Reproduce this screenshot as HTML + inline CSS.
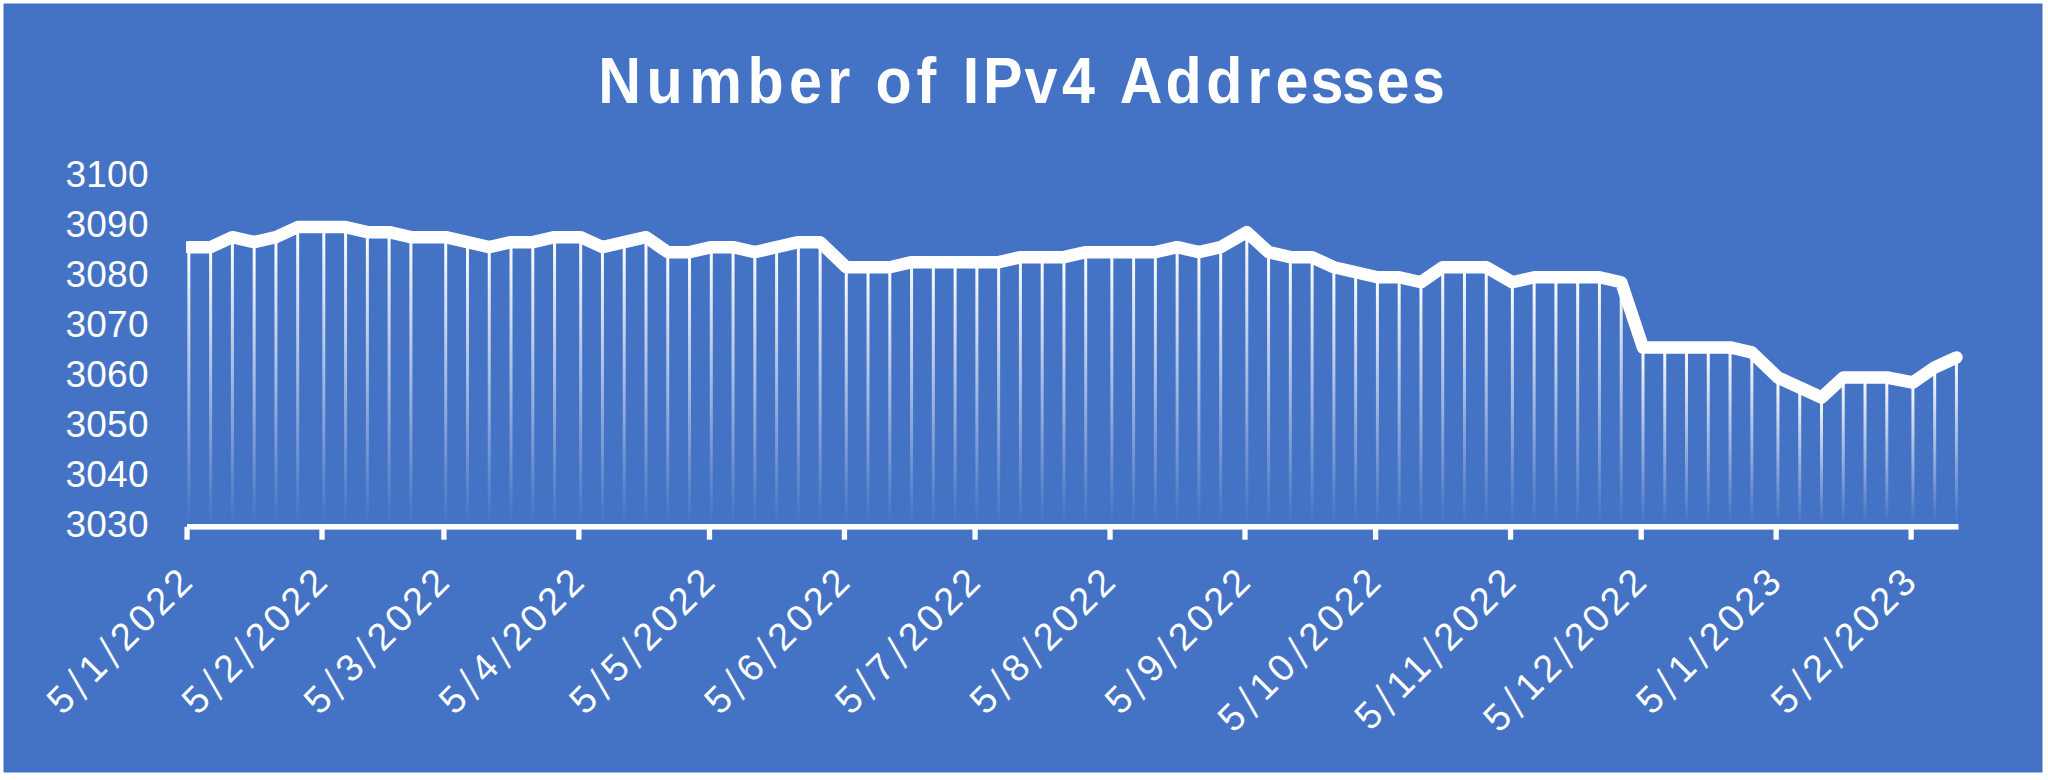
<!DOCTYPE html>
<html><head><meta charset="utf-8"><title>Number of IPv4 Addresses</title>
<style>
html,body{margin:0;padding:0;background:#fff;width:2048px;height:780px;overflow:hidden}
svg{display:block}
text{font-family:"Liberation Sans",Arial,sans-serif;fill:#fff}
</style></head><body>
<svg width="2048" height="780" viewBox="0 0 2048 780">
<defs>
<linearGradient id="dg" x1="0" y1="0" x2="0" y2="1">
<stop offset="0" stop-color="#fff" stop-opacity="1"/>
<stop offset="1" stop-color="#fff" stop-opacity="0"/>
</linearGradient>
<clipPath id="pc"><rect x="186" y="0" width="1800" height="780"/></clipPath>
</defs>
<rect x="3.5" y="3.5" width="2039" height="769" fill="#4472C4"/>
<rect x="4.5" y="4.5" width="2037" height="767" fill="none" stroke="#3e6dc1" stroke-width="1"/>
<text transform="scale(0.92,1)" y="102.8" font-size="64.4" font-weight="bold" x="650.25 702.77 749.21 812.49 857.60 899.20 909.20 951.64 996.16 1006.16 1046.43 1068.48 1113.47 1154.28 1164.28 1217.16 1266.92 1311.05 1355.99 1386.35 1424.45 1458.79 1496.18 1534.77">Number of IPv4 Addresses</text>
<text x="65.45 86.28 107.11 127.94" y="187.3" font-size="37">3100</text>
<text x="65.45 86.28 107.11 127.94" y="237.3" font-size="37">3090</text>
<text x="65.45 86.28 107.11 127.94" y="287.3" font-size="37">3080</text>
<text x="65.45 86.28 107.11 127.94" y="337.3" font-size="37">3070</text>
<text x="65.45 86.28 107.11 127.94" y="387.3" font-size="37">3060</text>
<text x="65.45 86.28 107.11 127.94" y="437.3" font-size="37">3050</text>
<text x="65.45 86.28 107.11 127.94" y="487.3" font-size="37">3040</text>
<text x="65.45 86.28 107.11 127.94" y="537.3" font-size="37">3030</text>
<rect x="187.35" y="247.17" width="3" height="276.83" fill="url(#dg)"/>
<rect x="209.12" y="247.17" width="3" height="276.83" fill="url(#dg)"/>
<rect x="230.89" y="237.15" width="3" height="286.85" fill="url(#dg)"/>
<rect x="252.66" y="242.16" width="3" height="281.84" fill="url(#dg)"/>
<rect x="274.42" y="237.15" width="3" height="286.85" fill="url(#dg)"/>
<rect x="296.19" y="227.12" width="3" height="296.88" fill="url(#dg)"/>
<rect x="322.31" y="227.12" width="3" height="296.88" fill="url(#dg)"/>
<rect x="344.08" y="227.12" width="3" height="296.88" fill="url(#dg)"/>
<rect x="365.85" y="232.14" width="3" height="291.86" fill="url(#dg)"/>
<rect x="387.62" y="232.14" width="3" height="291.86" fill="url(#dg)"/>
<rect x="409.39" y="237.15" width="3" height="286.85" fill="url(#dg)"/>
<rect x="444.22" y="237.15" width="3" height="286.85" fill="url(#dg)"/>
<rect x="465.99" y="242.16" width="3" height="281.84" fill="url(#dg)"/>
<rect x="487.76" y="247.17" width="3" height="276.83" fill="url(#dg)"/>
<rect x="509.52" y="242.16" width="3" height="281.84" fill="url(#dg)"/>
<rect x="531.29" y="242.16" width="3" height="281.84" fill="url(#dg)"/>
<rect x="553.06" y="237.15" width="3" height="286.85" fill="url(#dg)"/>
<rect x="579.18" y="237.15" width="3" height="286.85" fill="url(#dg)"/>
<rect x="600.95" y="247.17" width="3" height="276.83" fill="url(#dg)"/>
<rect x="622.72" y="242.16" width="3" height="281.84" fill="url(#dg)"/>
<rect x="644.49" y="237.15" width="3" height="286.85" fill="url(#dg)"/>
<rect x="666.26" y="252.19" width="3" height="271.81" fill="url(#dg)"/>
<rect x="688.03" y="252.19" width="3" height="271.81" fill="url(#dg)"/>
<rect x="709.79" y="247.17" width="3" height="276.83" fill="url(#dg)"/>
<rect x="731.56" y="247.17" width="3" height="276.83" fill="url(#dg)"/>
<rect x="753.33" y="252.19" width="3" height="271.81" fill="url(#dg)"/>
<rect x="775.10" y="247.17" width="3" height="276.83" fill="url(#dg)"/>
<rect x="796.87" y="242.16" width="3" height="281.84" fill="url(#dg)"/>
<rect x="818.64" y="242.16" width="3" height="281.84" fill="url(#dg)"/>
<rect x="844.76" y="267.22" width="3" height="256.78" fill="url(#dg)"/>
<rect x="866.53" y="267.22" width="3" height="256.78" fill="url(#dg)"/>
<rect x="888.30" y="267.22" width="3" height="256.78" fill="url(#dg)"/>
<rect x="910.06" y="262.21" width="3" height="261.79" fill="url(#dg)"/>
<rect x="931.83" y="262.21" width="3" height="261.79" fill="url(#dg)"/>
<rect x="953.60" y="262.21" width="3" height="261.79" fill="url(#dg)"/>
<rect x="975.37" y="262.21" width="3" height="261.79" fill="url(#dg)"/>
<rect x="997.14" y="262.21" width="3" height="261.79" fill="url(#dg)"/>
<rect x="1018.91" y="257.20" width="3" height="266.80" fill="url(#dg)"/>
<rect x="1040.68" y="257.20" width="3" height="266.80" fill="url(#dg)"/>
<rect x="1062.44" y="257.20" width="3" height="266.80" fill="url(#dg)"/>
<rect x="1084.21" y="252.19" width="3" height="271.81" fill="url(#dg)"/>
<rect x="1110.33" y="252.19" width="3" height="271.81" fill="url(#dg)"/>
<rect x="1132.10" y="252.19" width="3" height="271.81" fill="url(#dg)"/>
<rect x="1153.87" y="252.19" width="3" height="271.81" fill="url(#dg)"/>
<rect x="1175.64" y="247.17" width="3" height="276.83" fill="url(#dg)"/>
<rect x="1197.41" y="252.19" width="3" height="271.81" fill="url(#dg)"/>
<rect x="1219.18" y="247.17" width="3" height="276.83" fill="url(#dg)"/>
<rect x="1245.30" y="232.14" width="3" height="291.86" fill="url(#dg)"/>
<rect x="1267.07" y="252.19" width="3" height="271.81" fill="url(#dg)"/>
<rect x="1288.84" y="257.20" width="3" height="266.80" fill="url(#dg)"/>
<rect x="1310.60" y="257.20" width="3" height="266.80" fill="url(#dg)"/>
<rect x="1332.37" y="267.22" width="3" height="256.78" fill="url(#dg)"/>
<rect x="1354.14" y="272.24" width="3" height="251.76" fill="url(#dg)"/>
<rect x="1375.91" y="277.25" width="3" height="246.75" fill="url(#dg)"/>
<rect x="1397.68" y="277.25" width="3" height="246.75" fill="url(#dg)"/>
<rect x="1419.45" y="282.26" width="3" height="241.74" fill="url(#dg)"/>
<rect x="1441.22" y="267.22" width="3" height="256.78" fill="url(#dg)"/>
<rect x="1462.98" y="267.22" width="3" height="256.78" fill="url(#dg)"/>
<rect x="1484.75" y="267.22" width="3" height="256.78" fill="url(#dg)"/>
<rect x="1510.87" y="282.26" width="3" height="241.74" fill="url(#dg)"/>
<rect x="1532.64" y="277.25" width="3" height="246.75" fill="url(#dg)"/>
<rect x="1554.41" y="277.25" width="3" height="246.75" fill="url(#dg)"/>
<rect x="1576.18" y="277.25" width="3" height="246.75" fill="url(#dg)"/>
<rect x="1597.95" y="277.25" width="3" height="246.75" fill="url(#dg)"/>
<rect x="1619.72" y="282.26" width="3" height="241.74" fill="url(#dg)"/>
<rect x="1641.49" y="347.42" width="3" height="176.58" fill="url(#dg)"/>
<rect x="1663.25" y="347.42" width="3" height="176.58" fill="url(#dg)"/>
<rect x="1685.02" y="347.42" width="3" height="176.58" fill="url(#dg)"/>
<rect x="1706.79" y="347.42" width="3" height="176.58" fill="url(#dg)"/>
<rect x="1728.56" y="347.42" width="3" height="176.58" fill="url(#dg)"/>
<rect x="1750.33" y="352.43" width="3" height="171.57" fill="url(#dg)"/>
<rect x="1776.45" y="377.50" width="3" height="146.50" fill="url(#dg)"/>
<rect x="1798.22" y="387.52" width="3" height="136.48" fill="url(#dg)"/>
<rect x="1819.99" y="397.55" width="3" height="126.45" fill="url(#dg)"/>
<rect x="1841.76" y="377.50" width="3" height="146.50" fill="url(#dg)"/>
<rect x="1863.52" y="377.50" width="3" height="146.50" fill="url(#dg)"/>
<rect x="1885.29" y="377.50" width="3" height="146.50" fill="url(#dg)"/>
<rect x="1911.42" y="382.51" width="3" height="141.49" fill="url(#dg)"/>
<rect x="1933.18" y="367.47" width="3" height="156.53" fill="url(#dg)"/>
<rect x="1954.95" y="357.45" width="3" height="166.55" fill="url(#dg)"/>
<rect x="187" y="524" width="1771.5" height="5.6" fill="#fff"/>
<rect x="184.40" y="526.9" width="5.3" height="12.8" fill="#fff"/>
<text transform="translate(197.05,581.7) rotate(-45)" text-anchor="end" font-size="38" letter-spacing="4">5<tspan dx="1.15" dy="5.3" font-size="48" stroke="#4472C4" stroke-width="0.9">/</tspan><tspan dx="1.15" dy="-5.3">1</tspan><tspan dx="1.15" dy="5.3" font-size="48" stroke="#4472C4" stroke-width="0.9">/</tspan><tspan dx="1.15" dy="-5.3">2</tspan>022</text>
<rect x="319.36" y="526.9" width="5.3" height="12.8" fill="#fff"/>
<text transform="translate(332.01,581.7) rotate(-45)" text-anchor="end" font-size="38" letter-spacing="4">5<tspan dx="1.15" dy="5.3" font-size="48" stroke="#4472C4" stroke-width="0.9">/</tspan><tspan dx="1.15" dy="-5.3">2</tspan><tspan dx="1.15" dy="5.3" font-size="48" stroke="#4472C4" stroke-width="0.9">/</tspan><tspan dx="1.15" dy="-5.3">2</tspan>022</text>
<rect x="441.27" y="526.9" width="5.3" height="12.8" fill="#fff"/>
<text transform="translate(453.92,581.7) rotate(-45)" text-anchor="end" font-size="38" letter-spacing="4">5<tspan dx="1.15" dy="5.3" font-size="48" stroke="#4472C4" stroke-width="0.9">/</tspan><tspan dx="1.15" dy="-5.3">3</tspan><tspan dx="1.15" dy="5.3" font-size="48" stroke="#4472C4" stroke-width="0.9">/</tspan><tspan dx="1.15" dy="-5.3">2</tspan>022</text>
<rect x="576.23" y="526.9" width="5.3" height="12.8" fill="#fff"/>
<text transform="translate(588.88,581.7) rotate(-45)" text-anchor="end" font-size="38" letter-spacing="4">5<tspan dx="1.15" dy="5.3" font-size="48" stroke="#4472C4" stroke-width="0.9">/</tspan><tspan dx="1.15" dy="-5.3">4</tspan><tspan dx="1.15" dy="5.3" font-size="48" stroke="#4472C4" stroke-width="0.9">/</tspan><tspan dx="1.15" dy="-5.3">2</tspan>022</text>
<rect x="706.84" y="526.9" width="5.3" height="12.8" fill="#fff"/>
<text transform="translate(719.49,581.7) rotate(-45)" text-anchor="end" font-size="38" letter-spacing="4">5<tspan dx="1.15" dy="5.3" font-size="48" stroke="#4472C4" stroke-width="0.9">/</tspan><tspan dx="1.15" dy="-5.3">5</tspan><tspan dx="1.15" dy="5.3" font-size="48" stroke="#4472C4" stroke-width="0.9">/</tspan><tspan dx="1.15" dy="-5.3">2</tspan>022</text>
<rect x="841.81" y="526.9" width="5.3" height="12.8" fill="#fff"/>
<text transform="translate(854.46,581.7) rotate(-45)" text-anchor="end" font-size="38" letter-spacing="4">5<tspan dx="1.15" dy="5.3" font-size="48" stroke="#4472C4" stroke-width="0.9">/</tspan><tspan dx="1.15" dy="-5.3">6</tspan><tspan dx="1.15" dy="5.3" font-size="48" stroke="#4472C4" stroke-width="0.9">/</tspan><tspan dx="1.15" dy="-5.3">2</tspan>022</text>
<rect x="972.42" y="526.9" width="5.3" height="12.8" fill="#fff"/>
<text transform="translate(985.07,581.7) rotate(-45)" text-anchor="end" font-size="38" letter-spacing="4">5<tspan dx="1.15" dy="5.3" font-size="48" stroke="#4472C4" stroke-width="0.9">/</tspan><tspan dx="1.15" dy="-5.3">7</tspan><tspan dx="1.15" dy="5.3" font-size="48" stroke="#4472C4" stroke-width="0.9">/</tspan><tspan dx="1.15" dy="-5.3">2</tspan>022</text>
<rect x="1107.38" y="526.9" width="5.3" height="12.8" fill="#fff"/>
<text transform="translate(1120.03,581.7) rotate(-45)" text-anchor="end" font-size="38" letter-spacing="4">5<tspan dx="1.15" dy="5.3" font-size="48" stroke="#4472C4" stroke-width="0.9">/</tspan><tspan dx="1.15" dy="-5.3">8</tspan><tspan dx="1.15" dy="5.3" font-size="48" stroke="#4472C4" stroke-width="0.9">/</tspan><tspan dx="1.15" dy="-5.3">2</tspan>022</text>
<rect x="1242.35" y="526.9" width="5.3" height="12.8" fill="#fff"/>
<text transform="translate(1255.00,581.7) rotate(-45)" text-anchor="end" font-size="38" letter-spacing="4">5<tspan dx="1.15" dy="5.3" font-size="48" stroke="#4472C4" stroke-width="0.9">/</tspan><tspan dx="1.15" dy="-5.3">9</tspan><tspan dx="1.15" dy="5.3" font-size="48" stroke="#4472C4" stroke-width="0.9">/</tspan><tspan dx="1.15" dy="-5.3">2</tspan>022</text>
<rect x="1372.96" y="526.9" width="5.3" height="12.8" fill="#fff"/>
<text transform="translate(1385.61,581.7) rotate(-45)" text-anchor="end" font-size="38" letter-spacing="4">5<tspan dx="1.15" dy="5.3" font-size="48" stroke="#4472C4" stroke-width="0.9">/</tspan><tspan dx="1.15" dy="-5.3">1</tspan>0<tspan dx="1.15" dy="5.3" font-size="48" stroke="#4472C4" stroke-width="0.9">/</tspan><tspan dx="1.15" dy="-5.3">2</tspan>022</text>
<rect x="1507.92" y="526.9" width="5.3" height="12.8" fill="#fff"/>
<text transform="translate(1520.57,581.7) rotate(-45)" text-anchor="end" font-size="38" letter-spacing="4">5<tspan dx="1.15" dy="5.3" font-size="48" stroke="#4472C4" stroke-width="0.9">/</tspan><tspan dx="1.15" dy="-5.3">1</tspan>1<tspan dx="1.15" dy="5.3" font-size="48" stroke="#4472C4" stroke-width="0.9">/</tspan><tspan dx="1.15" dy="-5.3">2</tspan>022</text>
<rect x="1638.54" y="526.9" width="5.3" height="12.8" fill="#fff"/>
<text transform="translate(1651.19,581.7) rotate(-45)" text-anchor="end" font-size="38" letter-spacing="4">5<tspan dx="1.15" dy="5.3" font-size="48" stroke="#4472C4" stroke-width="0.9">/</tspan><tspan dx="1.15" dy="-5.3">1</tspan>2<tspan dx="1.15" dy="5.3" font-size="48" stroke="#4472C4" stroke-width="0.9">/</tspan><tspan dx="1.15" dy="-5.3">2</tspan>022</text>
<rect x="1773.50" y="526.9" width="5.3" height="12.8" fill="#fff"/>
<text transform="translate(1786.15,581.7) rotate(-45)" text-anchor="end" font-size="38" letter-spacing="4">5<tspan dx="1.15" dy="5.3" font-size="48" stroke="#4472C4" stroke-width="0.9">/</tspan><tspan dx="1.15" dy="-5.3">1</tspan><tspan dx="1.15" dy="5.3" font-size="48" stroke="#4472C4" stroke-width="0.9">/</tspan><tspan dx="1.15" dy="-5.3">2</tspan>023</text>
<rect x="1908.47" y="526.9" width="5.3" height="12.8" fill="#fff"/>
<text transform="translate(1921.12,581.7) rotate(-45)" text-anchor="end" font-size="38" letter-spacing="4">5<tspan dx="1.15" dy="5.3" font-size="48" stroke="#4472C4" stroke-width="0.9">/</tspan><tspan dx="1.15" dy="-5.3">2</tspan><tspan dx="1.15" dy="5.3" font-size="48" stroke="#4472C4" stroke-width="0.9">/</tspan><tspan dx="1.15" dy="-5.3">2</tspan>023</text>
<path clip-path="url(#pc)" d="M188.85,247.17 L210.62,247.17 L232.39,237.15 L254.16,242.16 L275.92,237.15 L297.69,227.12 L323.81,227.12 L345.58,227.12 L367.35,232.14 L389.12,232.14 L410.89,237.15 L445.72,237.15 L467.49,242.16 L489.26,247.17 L511.02,242.16 L532.79,242.16 L554.56,237.15 L580.68,237.15 L602.45,247.17 L624.22,242.16 L645.99,237.15 L667.76,252.19 L689.53,252.19 L711.29,247.17 L733.06,247.17 L754.83,252.19 L776.60,247.17 L798.37,242.16 L820.14,242.16 L846.26,267.22 L868.03,267.22 L889.80,267.22 L911.56,262.21 L933.33,262.21 L955.10,262.21 L976.87,262.21 L998.64,262.21 L1020.41,257.20 L1042.18,257.20 L1063.94,257.20 L1085.71,252.19 L1111.83,252.19 L1133.60,252.19 L1155.37,252.19 L1177.14,247.17 L1198.91,252.19 L1220.68,247.17 L1246.80,232.14 L1268.57,252.19 L1290.34,257.20 L1312.10,257.20 L1333.87,267.22 L1355.64,272.24 L1377.41,277.25 L1399.18,277.25 L1420.95,282.26 L1442.72,267.22 L1464.48,267.22 L1486.25,267.22 L1512.37,282.26 L1534.14,277.25 L1555.91,277.25 L1577.68,277.25 L1599.45,277.25 L1621.22,282.26 L1642.99,347.42 L1664.75,347.42 L1686.52,347.42 L1708.29,347.42 L1730.06,347.42 L1751.83,352.43 L1777.95,377.50 L1799.72,387.52 L1821.49,397.55 L1843.26,377.50 L1865.02,377.50 L1886.79,377.50 L1912.92,382.51 L1934.68,367.47 L1956.45,357.45" fill="none" stroke="#fff" stroke-width="12.5" stroke-linejoin="round" stroke-linecap="round"/>
</svg>
</body></html>
